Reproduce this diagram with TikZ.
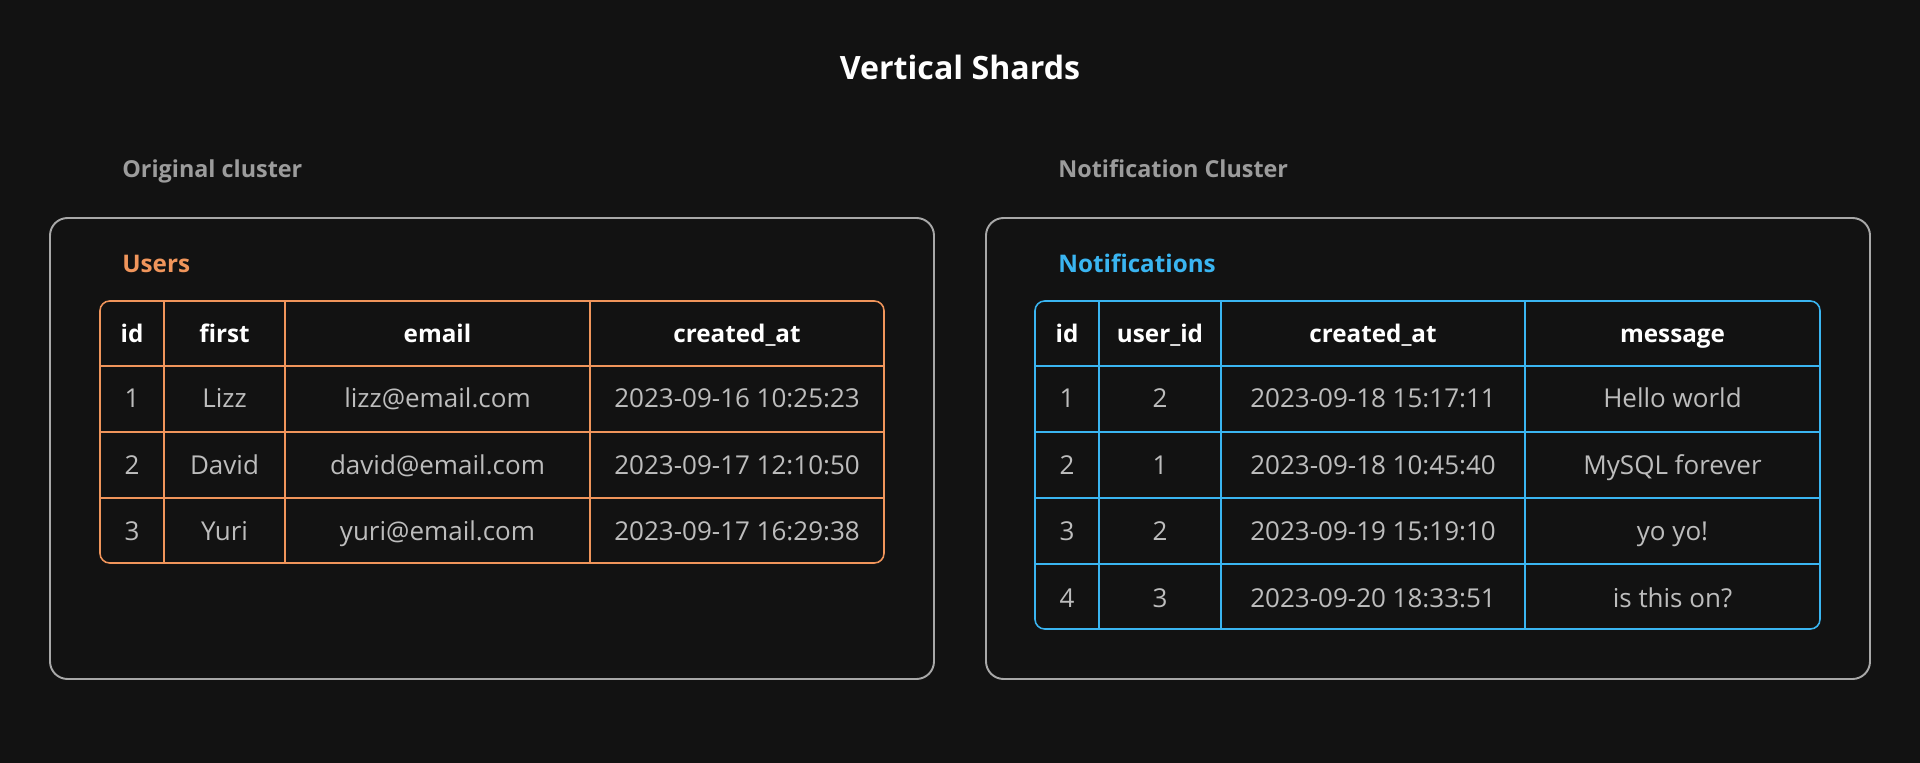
\documentclass[tikz,border=0pt]{standalone}
\usepackage{fontspec}
\setmainfont{Open Sans}
\definecolor{bg}{HTML}{121212}
\definecolor{boxgray}{HTML}{A8A8A8}
\definecolor{labelgray}{HTML}{9C9C9C}
\definecolor{cellgray}{HTML}{BDBDBD}
\definecolor{usersorange}{HTML}{F0955B}
\definecolor{notifblue}{HTML}{3AB5F1}
\tikzset{
  cluster/.style={draw=boxgray, line width=1.1pt, rounded corners=10pt},
  clusterlabel/.style={anchor=base west, inner sep=0pt, text=labelgray, font=\fontsize{13.3}{16}\selectfont\bfseries},
  tablelabel/.style={anchor=base west, inner sep=0pt, font=\fontsize{13.8}{16}\selectfont\bfseries},
  head/.style={anchor=base, text=white, font=\fontsize{13.8}{16}\selectfont\bfseries},
  cell/.style={anchor=base, text=cellgray, font=\fontsize{14.8}{16}\selectfont},
}
\begin{document}
\begin{tikzpicture}[x=0.02cm, y=-0.02cm]
  \fill[bg] (0,0) rectangle (1920,763);
  \useasboundingbox (0,0) rectangle (1920,763);

  \node[anchor=base, text=white, font=\fontsize{18.3}{20}\selectfont\bfseries] (title) at (960,80) {Vertical Shards};

  % original cluster
  \node[clusterlabel] (origlabel) at (122,178) {Original cluster};
  \draw[cluster] (50,218) rectangle (934,679);
  \node[tablelabel, text=usersorange] (users) at (122,273) {Users};
  \draw[usersorange, line width=0.9pt, rounded corners=5.5pt] (100,301) rectangle (884,563);
  \draw[usersorange, line width=0.8pt] (100,366) -- (884,366);
  \draw[usersorange, line width=0.8pt] (100,432) -- (884,432);
  \draw[usersorange, line width=0.8pt] (100,498) -- (884,498);
  \draw[usersorange, line width=0.7pt] (164,301) -- (164,563);
  \draw[usersorange, line width=0.7pt] (285,301) -- (285,563);
  \draw[usersorange, line width=0.7pt] (590,301) -- (590,563);

  \node[head] (uh1) at (132,343) {id};
  \node[head] (uh2) at (224.5,343) {first};
  \node[head] (uh3) at (437.5,343) {email};
  \node[head] (uh4) at (737,343) {created\_at};
  \node[cell] (ua1) at (132,407) {1};
  \node[cell] (ua2) at (224.5,407) {Lizz};
  \node[cell] (ua3) at (437.5,407) {lizz@email.com};
  \node[cell] (ua4) at (737,407) {2023-09-16 10:25:23};
  \node[cell] (ub1) at (132,474) {2};
  \node[cell] (ub2) at (224.5,474) {David};
  \node[cell] (ub3) at (437.5,474) {david@email.com};
  \node[cell] (ub4) at (737,474) {2023-09-17 12:10:50};
  \node[cell] (uc1) at (132,540) {3};
  \node[cell] (uc2) at (224.5,540) {Yuri};
  \node[cell] (uc3) at (437.5,540) {yuri@email.com};
  \node[cell] (uc4) at (737,540) {2023-09-17 16:29:38};

  % notification cluster
  \node[clusterlabel] (notiflabel) at (1058,178) {Notification Cluster};
  \draw[cluster] (986,218) rectangle (1870,679);
  \node[tablelabel, text=notifblue] (notifs) at (1058,273) {Notifications};
  \draw[notifblue, line width=0.9pt, rounded corners=5.5pt] (1035,301) rectangle (1820,629);
  \draw[notifblue, line width=0.8pt] (1035,366) -- (1820,366);
  \draw[notifblue, line width=0.8pt] (1035,432) -- (1820,432);
  \draw[notifblue, line width=0.8pt] (1035,498) -- (1820,498);
  \draw[notifblue, line width=0.8pt] (1035,564) -- (1820,564);
  \draw[notifblue, line width=0.7pt] (1099,301) -- (1099,629);
  \draw[notifblue, line width=0.7pt] (1221,301) -- (1221,629);
  \draw[notifblue, line width=0.7pt] (1525,301) -- (1525,629);

  \node[head] (nh1) at (1067,343) {id};
  \node[head] (nh2) at (1160,343) {user\_id};
  \node[head] (nh3) at (1373,343) {created\_at};
  \node[head] (nh4) at (1672.5,343) {message};
  \node[cell] (na1) at (1067,407) {1};
  \node[cell] (na2) at (1160,407) {2};
  \node[cell] (na3) at (1373,407) {2023-09-18 15:17:11};
  \node[cell] (na4) at (1672.5,407) {Hello world};
  \node[cell] (nb1) at (1067,474) {2};
  \node[cell] (nb2) at (1160,474) {1};
  \node[cell] (nb3) at (1373,474) {2023-09-18 10:45:40};
  \node[cell] (nb4) at (1672.5,474) {MySQL forever};
  \node[cell] (nc1) at (1067,540) {3};
  \node[cell] (nc2) at (1160,540) {2};
  \node[cell] (nc3) at (1373,540) {2023-09-19 15:19:10};
  \node[cell] (nc4) at (1672.5,540) {yo yo!};
  \node[cell] (nd1) at (1067,607) {4};
  \node[cell] (nd2) at (1160,607) {3};
  \node[cell] (nd3) at (1373,607) {2023-09-20 18:33:51};
  \node[cell] (nd4) at (1672.5,607) {is this on?};

\end{tikzpicture}
\end{document}
